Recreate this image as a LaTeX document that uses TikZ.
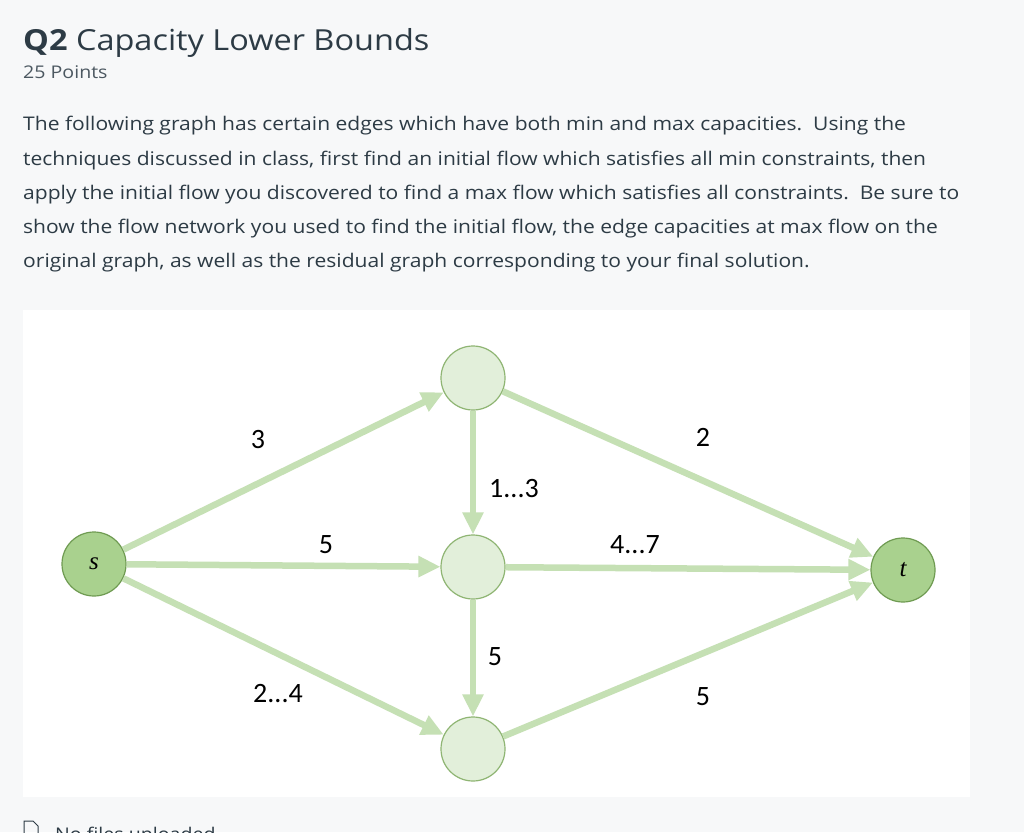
\documentclass[tikz,border=0pt]{standalone}
\usepackage{fontspec}
\setmainfont[FakeStretch=1.12]{Open Sans}
\newfontfamily\labfont{Carlito}
\newfontfamily\termfont{Liberation Serif}
\usetikzlibrary{arrows.meta}
\definecolor{pagebg}{HTML}{F7F8F9}
\definecolor{edgec}{HTML}{C5E0B4}
\definecolor{darkfill}{HTML}{A9D18E}
\definecolor{darkline}{HTML}{6F9B52}
\definecolor{lightfill}{HTML}{E2EFDA}
\definecolor{lightline}{HTML}{8FB573}
\definecolor{txt}{HTML}{2D3B45}
\tikzset{
  vtx/.style={circle,minimum size=64pt,inner sep=0pt,fill=lightfill,draw=lightline,line width=1.2pt},
  term/.style={vtx,fill=darkfill,draw=darkline,font=\termfont\itshape\fontsize{25}{25}\selectfont},
  edg/.style={draw=edgec,line width=6.5pt,-{Triangle[length=22pt,width=20pt]}},
  lab/.style={font=\labfont\fontsize{28}{28}\selectfont,text=black,inner sep=0pt},
  para/.style={anchor=base west,inner sep=0pt,text=txt,font=\fontsize{18.8}{18.8}\selectfont}
}
\begin{document}
\begin{tikzpicture}[x=1pt,y=-1pt]
\useasboundingbox[fill=pagebg] (0,0) rectangle (1024,832);
\clip (0,0) rectangle (1024,832);
\node[anchor=base west,inner sep=0pt,text=txt,font=\fontsize{29}{29}\selectfont] (title) at (23,51) {\textbf{Q2} Capacity Lower Bounds};
\node[anchor=base west,inner sep=0pt,text=txt!85,font=\fontsize{17.5}{17.5}\selectfont] (pts) at (23,79) {25 Points};
\node[para] (p1) at (23,131) {The following graph has certain edges which have both min and max capacities.\ \ Using the};
\node[para] (p2) at (23,165) {techniques discussed in class, first find an initial flow which satisfies all min constraints, then};
\node[para] (p3) at (23,199) {apply the initial flow you discovered to find a max flow which satisfies all constraints.\ \ Be sure to};
\node[para] (p4) at (23,233) {show the flow network you used to find the initial flow, the edge capacities at max flow on the};
\node[para] (p5) at (23,267) {original graph, as well as the residual graph corresponding to your final solution.};
\fill[white] (23,310) rectangle (970,797);
\node[term] (s) at (94,564) {s};
\node[vtx] (a) at (473,378) {};
\node[vtx] (b) at (473,567) {};
\node[vtx] (c) at (473,749) {};
\node[term] (t) at (903,570) {t};
\draw[edg] (s) -- (a);
\draw[edg] (s) -- (b);
\draw[edg] (s) -- (c);
\draw[edg] (a) -- (b);
\draw[edg] (a) -- (t);
\draw[edg] (b) -- (t);
\draw[edg] (b) -- (c);
\draw[edg] (c) -- (t);
\node[lab] (l1) at (258,440) {3};
\node[lab] (l2) at (703,437) {2};
\node[lab] (l3) at (514,489) {1...3};
\node[lab] (l4) at (326,545) {5};
\node[lab] (l5) at (635,545) {4...7};
\node[lab] (l6) at (495,657) {5};
\node[lab] (l7) at (278,694) {2...4};
\node[lab] (l8) at (703,697) {5};
\draw[txt,line width=1pt] (24,821) -- (33,821) -- (38,826) -- (38,840) -- (24,840) -- cycle;
\node[anchor=base west,inner sep=0pt,text=txt,font=\fontsize{17.5}{17.5}\selectfont] (nf) at (55,840) {No files uploaded};
\end{tikzpicture}
\end{document}
